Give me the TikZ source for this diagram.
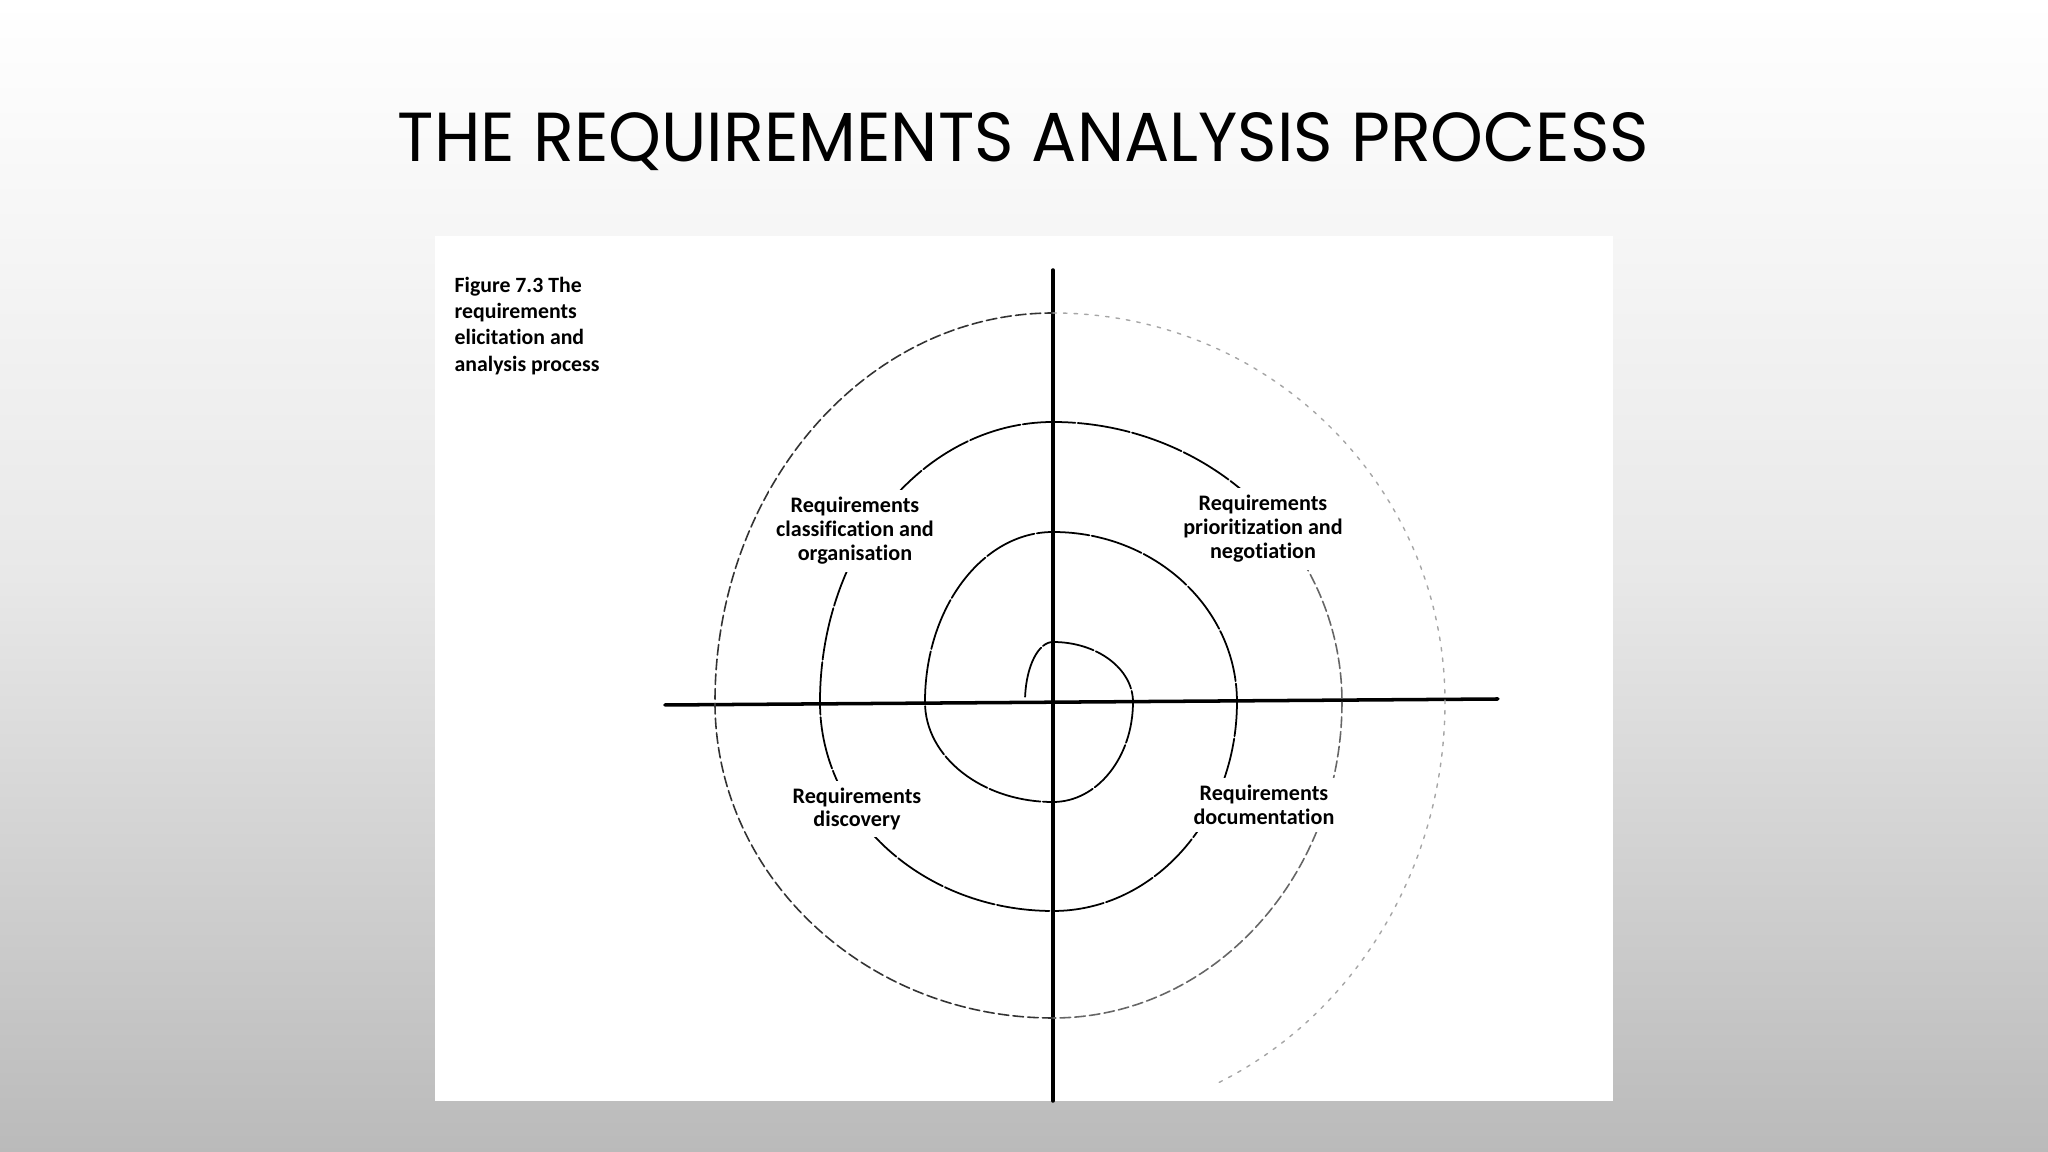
\documentclass[tikz,border=0pt]{standalone}
\usepackage{fontspec}
\usepackage{graphicx}
\newfontfamily\titlefont{Poppins}
\newfontfamily\figfont[Ligatures=NoCommon]{Carlito}
\tikzset{
  spiral/.style={line width=0.5pt, dash pattern=on 15pt off 0.7pt},
  faint/.style={line width=0.45pt, black!60, dash pattern=on 3pt off 1.2pt},
  fainter/.style={line width=0.4pt, black!35, dash pattern=on 1pt off 2pt},
  stage/.style={fill=white, inner sep=2pt, align=center, font=\figfont\bfseries\fontsize{6.3}{6.8}\selectfont}
}
\begin{document}
\begin{tikzpicture}[line cap=round, line join=round]
              \shade[top color=white, bottom color=black!27, middle color=black!9] (-10.53,-4.50) rectangle (9.95,7.02);
              \useasboundingbox (-10.53,-4.50) rectangle (9.95,7.02);
              \fill[white] (-6.18,-3.99) rectangle (5.60,4.66);

              \draw[line width=1pt] (0,-3.99) -- (0,4.32);
              \draw[line width=1pt] (-3.88,-0.03) -- (4.45,0.03);

              \draw[spiral] (175:0.28cm and 0.60cm) arc (175:90:0.28cm and 0.60cm)
                arc (90:0:0.80cm and 0.60cm) arc (0:-90:0.80cm and 1.00cm)
                arc (-90:-180:1.28cm and 1.00cm) arc (180:90:1.28cm and 1.70cm)
                arc (90:0:1.84cm and 1.70cm) arc (0:-90:1.84cm and 2.09cm)
                arc (-90:-180:2.33cm and 2.09cm) arc (180:90:2.33cm and 2.80cm)
                arc (90:45:2.89cm and 2.80cm);
              \draw[faint] (45:2.89cm and 2.80cm) arc (45:0:2.89cm and 2.80cm)
                arc (0:-90:2.89cm and 3.16cm);
              \draw[faint, black!80] (-90:3.38cm and 3.16cm) arc (-90:-180:3.38cm and 3.16cm)
                arc (180:90:3.38cm and 3.89cm);
              \draw[fainter] (90:3.92cm and 3.89cm) arc (90:0:3.92cm and 3.89cm)
                arc (0:-65:3.92cm and 4.20cm);

              \draw (-1.98,1.71) node[stage] (classify) {Requirements\\classification and\\organisation};
              \draw (2.10,1.73) node[stage] (prioritize) {Requirements\\prioritization and\\negotiation};
              \draw (-1.96,-1.07) node[stage] (discover) {Requirements\\discovery};
              \draw (2.11,-1.03) node[stage] (document) {Requirements\\documentation};

              \draw (-5.99,4.25) node[anchor=north west, inner sep=0, align=left, font=\figfont\bfseries\fontsize{6.2}{7.4}\selectfont] (caption) {Figure 7.3 The\\requirements\\elicitation and\\analysis process};

              \draw (-0.295,5.40) node[anchor=base, inner sep=0] (title) {\resizebox{12.51cm}{0.49cm}{\titlefont THE REQUIREMENTS ANALYSIS PROCESS}};
            \end{tikzpicture}
\end{document}
